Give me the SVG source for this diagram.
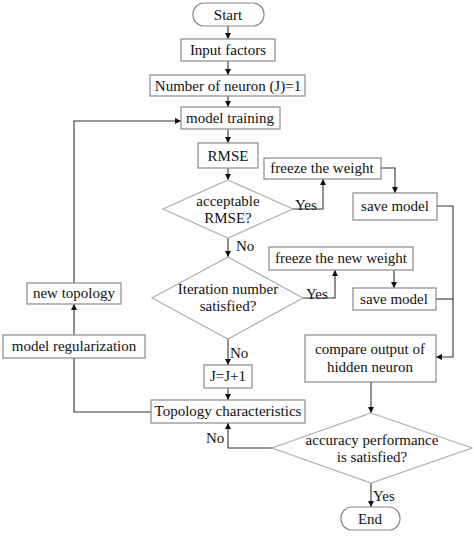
<svg xmlns="http://www.w3.org/2000/svg" width="474" height="551" viewBox="0 0 474 551">
<defs>
<marker id="ah" viewBox="0 0 10 10" refX="10" refY="5" markerWidth="6" markerHeight="6" orient="auto" markerUnits="userSpaceOnUse">
<path d="M0,0 L10,5 L0,10 z" fill="#111"/>
</marker>
<style>
.box{fill:#fff;stroke:#8a8a8a;stroke-width:1.2}
.dia{fill:#fff;stroke:#b0b0b0;stroke-width:1.2}
.ln{fill:none;stroke:#333;stroke-width:1.1}
.ar{marker-end:url(#ah)}
.t{font-size:15px;fill:#111;text-anchor:middle}
.lb{text-anchor:start}
</style>
</defs>
<rect width="474" height="551" fill="#fff"/>
<g font-family="'Liberation Serif', 'Times New Roman', 'DejaVu Serif', serif">
<g id="connectors">
<line class="ln ar" x1="228" y1="26" x2="228" y2="39"/>
<line class="ln ar" x1="228" y1="61" x2="228" y2="75"/>
<line class="ln ar" x1="228" y1="96" x2="228" y2="107"/>
<line class="ln ar" x1="228" y1="129" x2="228" y2="143"/>
<line class="ln ar" x1="228" y1="168" x2="228" y2="180"/>
<polyline class="ln ar" points="293,209 323,209 323,179"/>
<polyline class="ln ar" points="381,168 395,168 395,193"/>
<polyline class="ln ar" points="437,206 453,206 453,357 436,357"/>
<line class="ln ar" x1="228" y1="238" x2="228" y2="257"/>
<polyline class="ln ar" points="303,298 335,298 335,270"/>
<line class="ln ar" x1="394" y1="270" x2="394" y2="288"/>
<line class="ln" x1="436" y1="299" x2="453" y2="299"/>
<line class="ln ar" x1="371" y1="382" x2="371" y2="413"/>
<polyline class="ln ar" points="272,448 228,448 228,423"/>
<line class="ln ar" x1="371" y1="483" x2="371" y2="507"/>
<line class="ln ar" x1="228" y1="339" x2="228" y2="365"/>
<line class="ln ar" x1="228" y1="388" x2="228" y2="400"/>
<polyline class="ln" points="151,412 74,412 74,358"/>
<line class="ln ar" x1="74" y1="335" x2="74" y2="304"/>
<polyline class="ln ar" points="74,283 74,121 181,121"/>
<text class="t lb" x="295" y="210">Yes</text>
<text class="t lb" x="236" y="251">No</text>
<text class="t lb" x="306" y="299">Yes</text>
<text class="t lb" x="230" y="358">No</text>
<text class="t lb" x="206" y="443">No</text>
<text class="t lb" x="373" y="501">Yes</text>
</g>
<g id="start"><rect class="box" x="193" y="3" width="71" height="23" rx="11"/><text class="t" x="228" y="20">Start</text></g>
<g id="input"><rect class="box" x="181" y="39" width="94" height="22"/><text class="t" x="228" y="55">Input factors</text></g>
<g id="number"><rect class="box" x="150" y="75" width="155" height="21"/><text class="t" x="228" y="91">Number of neuron (J)=1</text></g>
<g id="training"><rect class="box" x="181" y="107" width="99" height="22"/><text class="t" x="230" y="123">model training</text></g>
<g id="rmse"><rect class="box" x="198" y="143" width="60" height="25"/><text class="t" x="228" y="161">RMSE</text></g>
<g id="acceptable"><polygon class="dia" points="228,180 293,209 228,238 163,209"/><text class="t" x="228" y="206">acceptable</text><text class="t" x="228" y="223">RMSE?</text></g>
<g id="freeze1"><rect class="box" x="264" y="158" width="117" height="21"/><text class="t" x="322" y="173">freeze the weight</text></g>
<g id="save1"><rect class="box" x="353" y="193" width="84" height="27"/><text class="t" x="395" y="211">save model</text></g>
<g id="iteration"><polygon class="dia" points="228,257 303,298 228,339 152,298"/><text class="t" x="228" y="294">Iteration number</text><text class="t" x="228" y="311">satisfied?</text></g>
<g id="freeze2"><rect class="box" x="269" y="247" width="144" height="23"/><text class="t" x="341" y="263">freeze the new weight</text></g>
<g id="save2"><rect class="box" x="353" y="288" width="83" height="22"/><text class="t" x="394" y="304">save model</text></g>
<g id="compare"><rect class="box" x="305" y="335" width="131" height="47"/><text class="t" x="370" y="354">compare output of</text><text class="t" x="370" y="372">hidden neuron</text></g>
<g id="accuracy"><polygon class="dia" points="371,413 472,448 371,483 272,448"/><text class="t" x="372" y="445">accuracy performance</text><text class="t" x="372" y="462">is satisfied?</text></g>
<g id="end"><rect class="box" x="341" y="507" width="59" height="23" rx="11"/><text class="t" x="370" y="524">End</text></g>
<g id="jinc"><rect class="box" x="204" y="365" width="48" height="23"/><text class="t" x="228" y="381">J=J+1</text></g>
<g id="topology"><rect class="box" x="151" y="400" width="154" height="23"/><text class="t" x="228" y="416">Topology characteristics</text></g>
<g id="regularization"><rect class="box" x="3" y="335" width="142" height="23"/><text class="t" x="74" y="351">model regularization</text></g>
<g id="newtopology"><rect class="box" x="27" y="283" width="94" height="21"/><text class="t" x="74" y="298">new topology</text></g>
</g>
</svg>
